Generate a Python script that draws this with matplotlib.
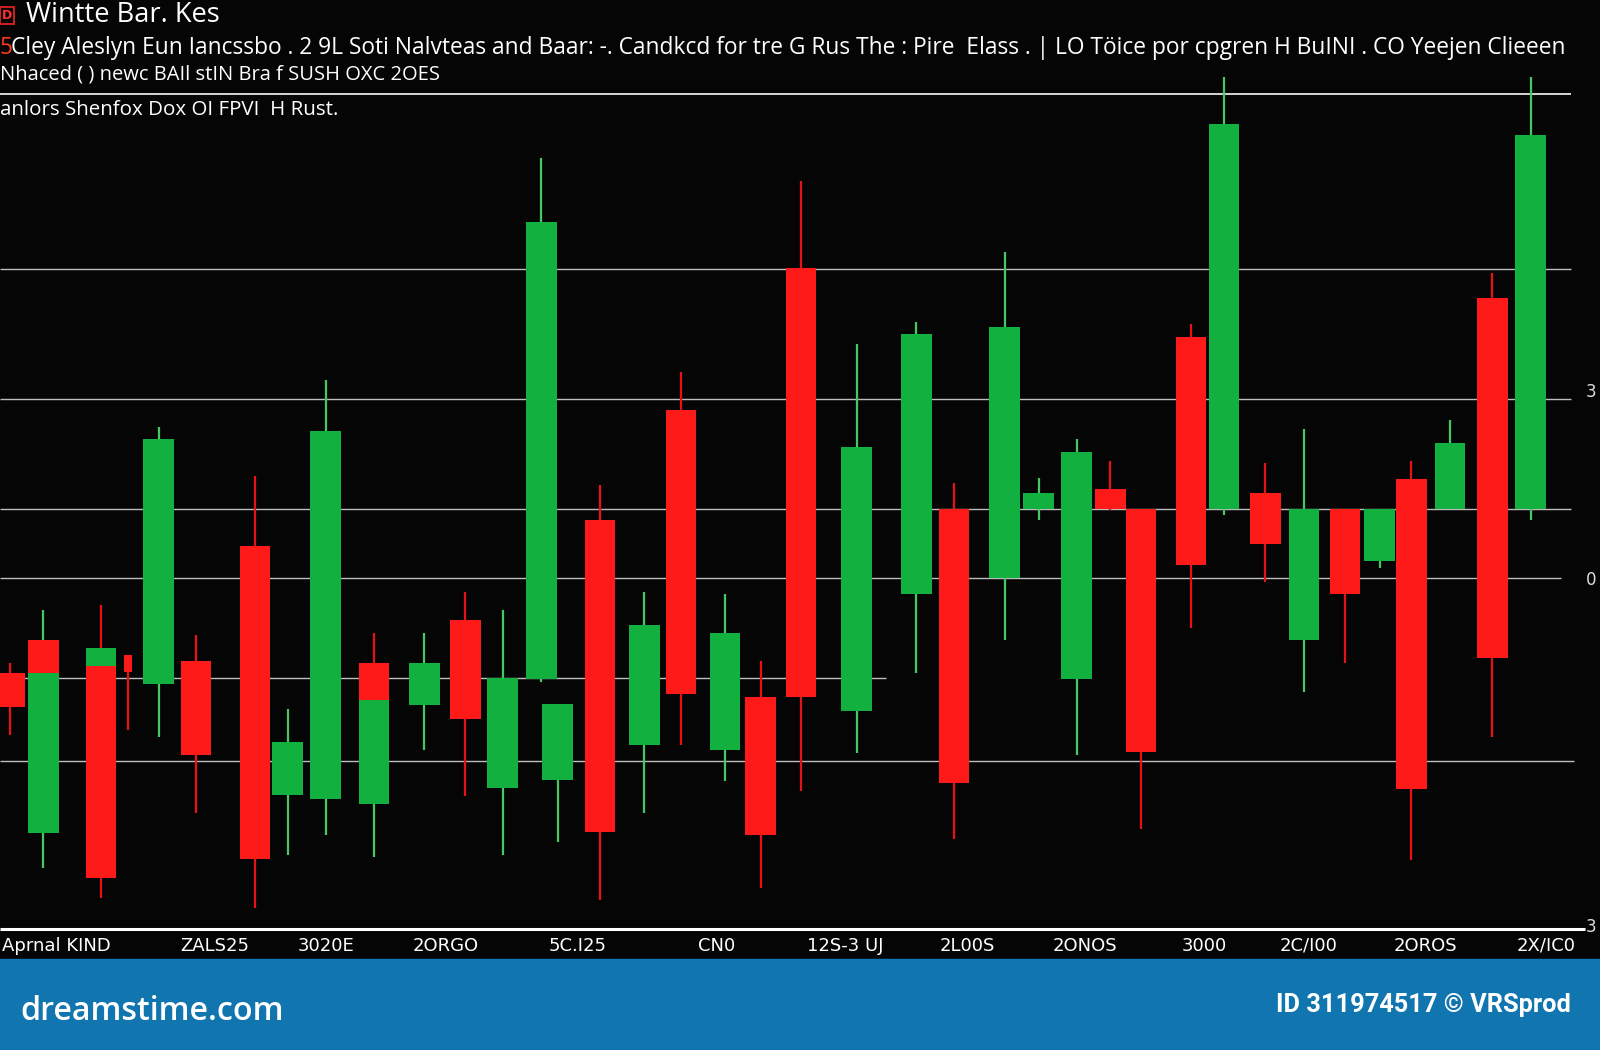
import matplotlib
matplotlib.use("Agg")
import matplotlib.pyplot as plt
from matplotlib import font_manager
from matplotlib.patches import Rectangle

# ---------------- data ----------------
positions = [0.95, 4.26, 4.26, 9.9, 9.9, 12.55, 15.55, 19.2, 25.0, 28.2, 31.9,
             36.65, 36.65, 41.6, 45.6, 49.25, 53.05, 54.65, 58.8, 63.15, 66.75,
             71.05, 74.55, 78.5, 83.95, 89.8, 93.5, 98.45, 101.8, 105.5, 108.8,
             111.8, 116.7, 119.95, 124.0, 127.8, 131.8, 135.2, 138.3, 142.1,
             146.25, 150.0]
opens = [68.0, 74.6, 36.8, 69.4, 69.4, 71.6, 66.0, 70.4, 93.0, 44.2, 43.4,
         70.0, 42.4, 61.8, 78.4, 45.6, 67.0, 47.2, 98.0, 54.0, 119.6,
         53.0, 63.4, 147.4, 60.6, 83.6, 100.2, 86.8, 100.2, 67.0, 104.2,
         100.2, 134.0, 100.2, 103.4, 74.6, 100.2, 90.0, 106.2, 100.2,
         141.6, 100.2]
highs = [70.0, 74.6, 80.4, 73.0, 81.4, 71.6, 116.4, 75.6, 106.8, 61.0, 125.6,
         76.0, 62.8, 76.0, 84.0, 80.4, 169.0, 62.0, 105.0, 84.0, 127.0,
         83.6, 70.4, 164.6, 132.6, 136.8, 105.4, 150.6, 106.4, 114.0, 109.6,
         100.2, 136.4, 185.0, 109.2, 116.0, 100.2, 100.2, 109.6, 117.6,
         146.4, 185.0]
lows = [56.0, 68.0, 29.8, 69.4, 24.0, 57.0, 55.6, 40.6, 22.0, 32.4, 36.4,
        62.8, 32.0, 53.0, 44.0, 32.4, 66.4, 35.0, 23.6, 40.6, 54.0,
        47.0, 26.0, 45.0, 52.4, 68.0, 35.6, 74.6, 98.0, 52.0, 100.0,
        37.6, 77.0, 99.0, 86.0, 64.4, 70.0, 88.6, 31.4, 100.2,
        55.6, 98.0]
closes = [61.4, 68.0, 68.0, 73.0, 28.0, 68.2, 114.0, 52.0, 31.6, 54.6, 115.6,
          62.8, 62.8, 70.0, 59.0, 67.2, 156.4, 62.0, 37.0, 77.6, 64.0,
          76.0, 36.4, 63.4, 112.4, 134.6, 46.6, 136.0, 103.4, 111.4, 100.2,
          52.6, 89.2, 175.6, 93.4, 100.2, 83.6, 100.2, 45.4, 113.2,
          71.0, 173.6]

grid_levels = [181.6, 147.2, 121.8, 100.2, 86.8, 67.2, 50.8]
grid_ends = [154.0, 154.0, 154.0, 154.0, 153.0, 86.8, 154.3]
axis_level = 18.0

x_label_text = ["Aprnal KIND", "ZALS25", "3020E", "2ORGO", "5C.I25", "CN0",
                "12S-3 UJ", "2L00S", "2ONOS", "3000", "2C/I00", "2OROS", "2X/IC0"]
x_label_pos = [0.2, 21.0, 32.0, 43.7, 56.6, 70.2, 82.8, 94.8, 106.3, 118.0,
               128.2, 139.7, 151.5]

right_label_text = ["3", "0", "3"]
right_label_level = [123.2, 86.4, 18.4]

title_text = "Wintte Bar. Kes"
title_icon = "D"
subtitle_mark = "5"
subtitle_lines = [
    "Cley Aleslyn Eun Iancssbo . 2 9L Soti Nalvteas and Baar: -. Candkcd for tre G Rus The : Pire  Elass . | LO T\u00f6ice por cpgren H BuINI . CO Yeejen Clieeen",
    "Nhaced ( ) newc BAIl stIN Bra f SUSH OXC 2OES",
    "anlors Shenfox Dox OI FPVI  H Rust.",
]
banner_left = "dreamstime.com"
banner_right = "ID 311974517 \u00a9 VRSprod"

# ---------------- style ----------------
GREEN = "#12b03e"
GREEN_WICK = "#45c863"
RED = "#ff1a1a"
RED_WICK = "#e81212"
BG = "#050505"
BANNER = "#1176b0"

names = {f.name for f in font_manager.fontManager.ttflist}
NARROW = "Liberation Sans Narrow" if "Liberation Sans Narrow" in names else "DejaVu Sans"
THIN = "Open Sans" if "Open Sans" in names else "DejaVu Sans"
BOLD = "Roboto" if "Roboto" in names else "DejaVu Sans"

W, H = 1600, 1050
fig = plt.figure(figsize=(16, 10.5), dpi=100, facecolor=BG)
renderer = fig.canvas.get_renderer()


def fx(x):
    return x / W


def fy(y):
    return 1 - y / H


def fit(t, width_px):
    w = t.get_window_extent(renderer).width
    t.set_fontsize(t.get_fontsize() * width_px / w)


banner_h = 91
ax = fig.add_axes([0, banner_h / H, 1, 1 - banner_h / H])
ax.set_facecolor(BG)
ax.set_xlim(0, 156.8)
ax.set_ylim(12.04, 200)
ax.axis("off")

# grid lines
for lvl, end in zip(grid_levels, grid_ends):
    top = lvl == max(grid_levels)
    ax.hlines(lvl, 0, end, color="#e6e6e6" if top else "#bdbdbd",
              lw=1.3 if top else 1.0, zorder=1)
ax.hlines(axis_level, 0, 155.3, color="white", lw=2.2, zorder=1)

# candles
for i, (x, o, h, l, c) in enumerate(zip(positions, opens, highs, lows, closes)):
    up = c >= o
    w = 0.7 if i == 5 else 3.0
    ax.vlines(x, l, h, color=GREEN_WICK if up else RED_WICK, lw=1.6, zorder=2)
    ax.bar(x, abs(c - o), bottom=min(o, c), width=w,
           color=GREEN if up else RED, zorder=3, linewidth=0)

# x labels
for i, (txt, p) in enumerate(zip(x_label_text, x_label_pos)):
    ax.text(p, 14.6, txt, color="white", fontsize=13, family=NARROW,
            ha="left" if i == 0 else "center", va="center", zorder=4)

# right-edge labels
for txt, lvl in zip(right_label_text, right_label_level):
    ax.text(155.4, lvl, txt, color="#dddddd", fontsize=12, family=NARROW,
            ha="left", va="center", clip_on=False)

# header texts
fig.text(fx(2), fy(15.5), title_icon, color="#ff3030", fontsize=9, weight="bold",
         ha="left", va="center",
         bbox=dict(boxstyle="square,pad=0.15", fc="none", ec="#e02020", lw=1.3))
t = fig.text(fx(26.5), fy(15.3), title_text, color="white", fontsize=18,
             family=THIN, ha="left", va="center")
fit(t, 194)
t = fig.text(fx(11), fy(48), subtitle_lines[0], color="white", fontsize=14,
             family=THIN, ha="left", va="center")
fit(t, 1563)
fig.text(fx(0), fy(48), subtitle_mark, color="#ff3a1a", fontsize=t.get_fontsize(),
         family=THIN, ha="left", va="center")
t = fig.text(fx(0), fy(74.5), subtitle_lines[1], color="white", fontsize=14,
             family=THIN, ha="left", va="center")
fit(t, 442)
t = fig.text(fx(0), fy(110), subtitle_lines[2], color="white", fontsize=14,
             family=THIN, ha="left", va="center")
fit(t, 339)

# bottom banner
fig.add_artist(Rectangle((0, 0), 1, banner_h / H, transform=fig.transFigure,
                         color=BANNER, zorder=0))
t = fig.text(fx(20), fy(1012), banner_left, color="white", fontsize=24,
             family=THIN, weight="semibold", ha="left", va="center")
fit(t, 264)
t = fig.text(fx(1571), fy(1005), banner_right, color="white", fontsize=20,
             family=BOLD, weight="bold", ha="right", va="center")
fit(t, 295)

fig.savefig("out.png", dpi=100, facecolor=BG)
